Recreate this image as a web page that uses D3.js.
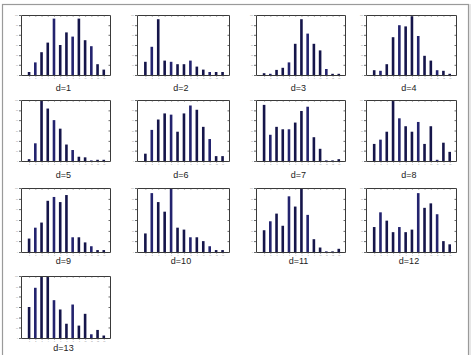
<!DOCTYPE html>
<html>
<head>
<meta charset="utf-8">
<script src="https://cdn.jsdelivr.net/npm/d3@7"></script>
<style>
  html, body { margin: 0; padding: 0; background: #fff; }
  svg { display: block; }
</style>
</head>
<body>
<script>
// ---- data ----
const categories = [1, 2, 3, 4, 5, 6, 7, 8, 9, 10, 11, 12, 13];
const panelLabels = ["d=1", "d=2", "d=3", "d=4", "d=5", "d=6", "d=7", "d=8", "d=9", "d=10", "d=11", "d=12", "d=13"];
const yTicks = [0, 17, 33, 50, 67, 83, 100];
const d1 = [5, 21, 38, 54, 94, 50, 71, 64, 94, 58, 48, 18, 9];
const d2 = [22, 47, 93, 24, 22, 18, 18, 24, 14, 9, 5, 5, 5];
const d3v = [3, 2, 8.5, 12, 21, 52, 93, 69, 52, 41, 10, 2, 2];
const d4 = [8, 7, 18, 63, 83, 81, 98, 65, 32, 24, 8, 7, 2];
const d5 = [3, 29, 100, 86, 67, 53, 27, 18, 7, 6, 1, 2, 2];
const d6 = [12, 51, 68, 78, 76, 48, 78, 91, 84, 56, 36, 8, 8];
const d7 = [92, 43, 56, 52, 52, 63, 82, 89, 39, 20, 1, 1, 3];
const d8 = [28, 35, 48, 100, 70, 57, 48, 64, 28, 57, 2, 30, 15];
const d9 = [21, 38, 46, 80, 86, 78, 89, 23, 23, 15, 9, 3, 3];
const d10 = [29, 92, 78, 63, 100, 38, 35, 23, 23, 17, 9, 3, 3];
const d11 = [34, 48, 60, 41, 87, 71, 100, 58, 20, 7, 1, 1, 5];
const d12 = [39, 62, 49, 31, 39, 31, 35, 92, 69, 76, 59, 17, 12];
const d13 = [50, 81, 100, 100, 61, 46, 23, 54, 20, 39, 6, 13, 4];
const series = [d1, d2, d3v, d4, d5, d6, d7, d8, d9, d10, d11, d12, d13];

// ---- layout ----
const W = 474, H = 355;
const colX = [21, 137, 256, 366];
const colW = [89, 92, 89, 90];
const rowY = [15, 100, 188, 276];
const rowH = [60, 61, 64, 62];
const labelY = [91, 178, 264, 351];

const svg = d3.select("body").append("svg")
  .attr("width", W).attr("height", H)
  .style("font-family", "'Liberation Sans', Arial, sans-serif");

svg.append("rect").attr("width", W).attr("height", H).attr("fill", "#fff");
// outer frame
svg.append("rect")
  .attr("x", 2.5).attr("y", 4.5).attr("width", 466).attr("height", 360)
  .attr("fill", "none").attr("stroke", "#9a9a9a").attr("stroke-width", 1.2);
svg.append("line").attr("x1", 470).attr("x2", 470).attr("y1", 4).attr("y2", H)
  .attr("stroke", "#d0d0d0").attr("stroke-width", 1);

series.forEach((vals, i) => {
  const col = i % 4, row = Math.floor(i / 4);
  const x0 = colX[col], y0 = rowY[row], w = colW[col], h = rowH[row];
  const g = svg.append("g").attr("transform", `translate(${x0},${y0})`);

  const x = d3.scaleLinear().domain([-0.3, 14]).range([0, w]);
  const y = d3.scaleLinear().domain([0, 100]).range([h, 0]);

  // bars
  g.selectAll("rect.bar").data(vals).join("rect")
    .attr("class", "bar")
    .attr("x", (d, j) => x(categories[j]) - 1.3)
    .attr("width", 2.6)
    .attr("y", d => y(d))
    .attr("height", d => h - y(d))
    .attr("fill", (d, j) => (j % 3 === 1 ? "#23236e" : "#15154a"));

  const style = sel => {
    sel.select(".domain").attr("stroke", "#3a3a3a").attr("stroke-width", 1);
    sel.selectAll(".tick line").attr("stroke", "#444").attr("stroke-width", 0.8);
    sel.selectAll(".tick text").attr("fill", "#888").attr("font-size", 1.8);
  };

  // bottom axis
  g.append("g").attr("transform", `translate(0,${h})`)
    .call(d3.axisBottom(x).tickValues(categories).tickSize(1.5).tickPadding(1).tickSizeOuter(0))
    .call(style);
  // top axis
  g.append("g")
    .call(d3.axisTop(x).tickValues(categories).tickSize(-1.5).tickFormat("").tickSizeOuter(0))
    .call(style);
  // left axis
  g.append("g")
    .call(d3.axisLeft(y).tickValues(yTicks).tickSize(2).tickPadding(1).tickSizeOuter(0))
    .call(style);
  // right axis
  g.append("g").attr("transform", `translate(${w},0)`)
    .call(d3.axisRight(y).tickValues(yTicks).tickSize(-1.5).tickFormat("").tickSizeOuter(0))
    .call(style);

  svg.append("text")
    .attr("x", x0 + w / 2 - 2)
    .attr("y", labelY[row])
    .attr("text-anchor", "middle")
    .attr("font-size", 9)
    .attr("fill", "#222")
    .text(panelLabels[i]);
});
</script>
</body>
</html>
